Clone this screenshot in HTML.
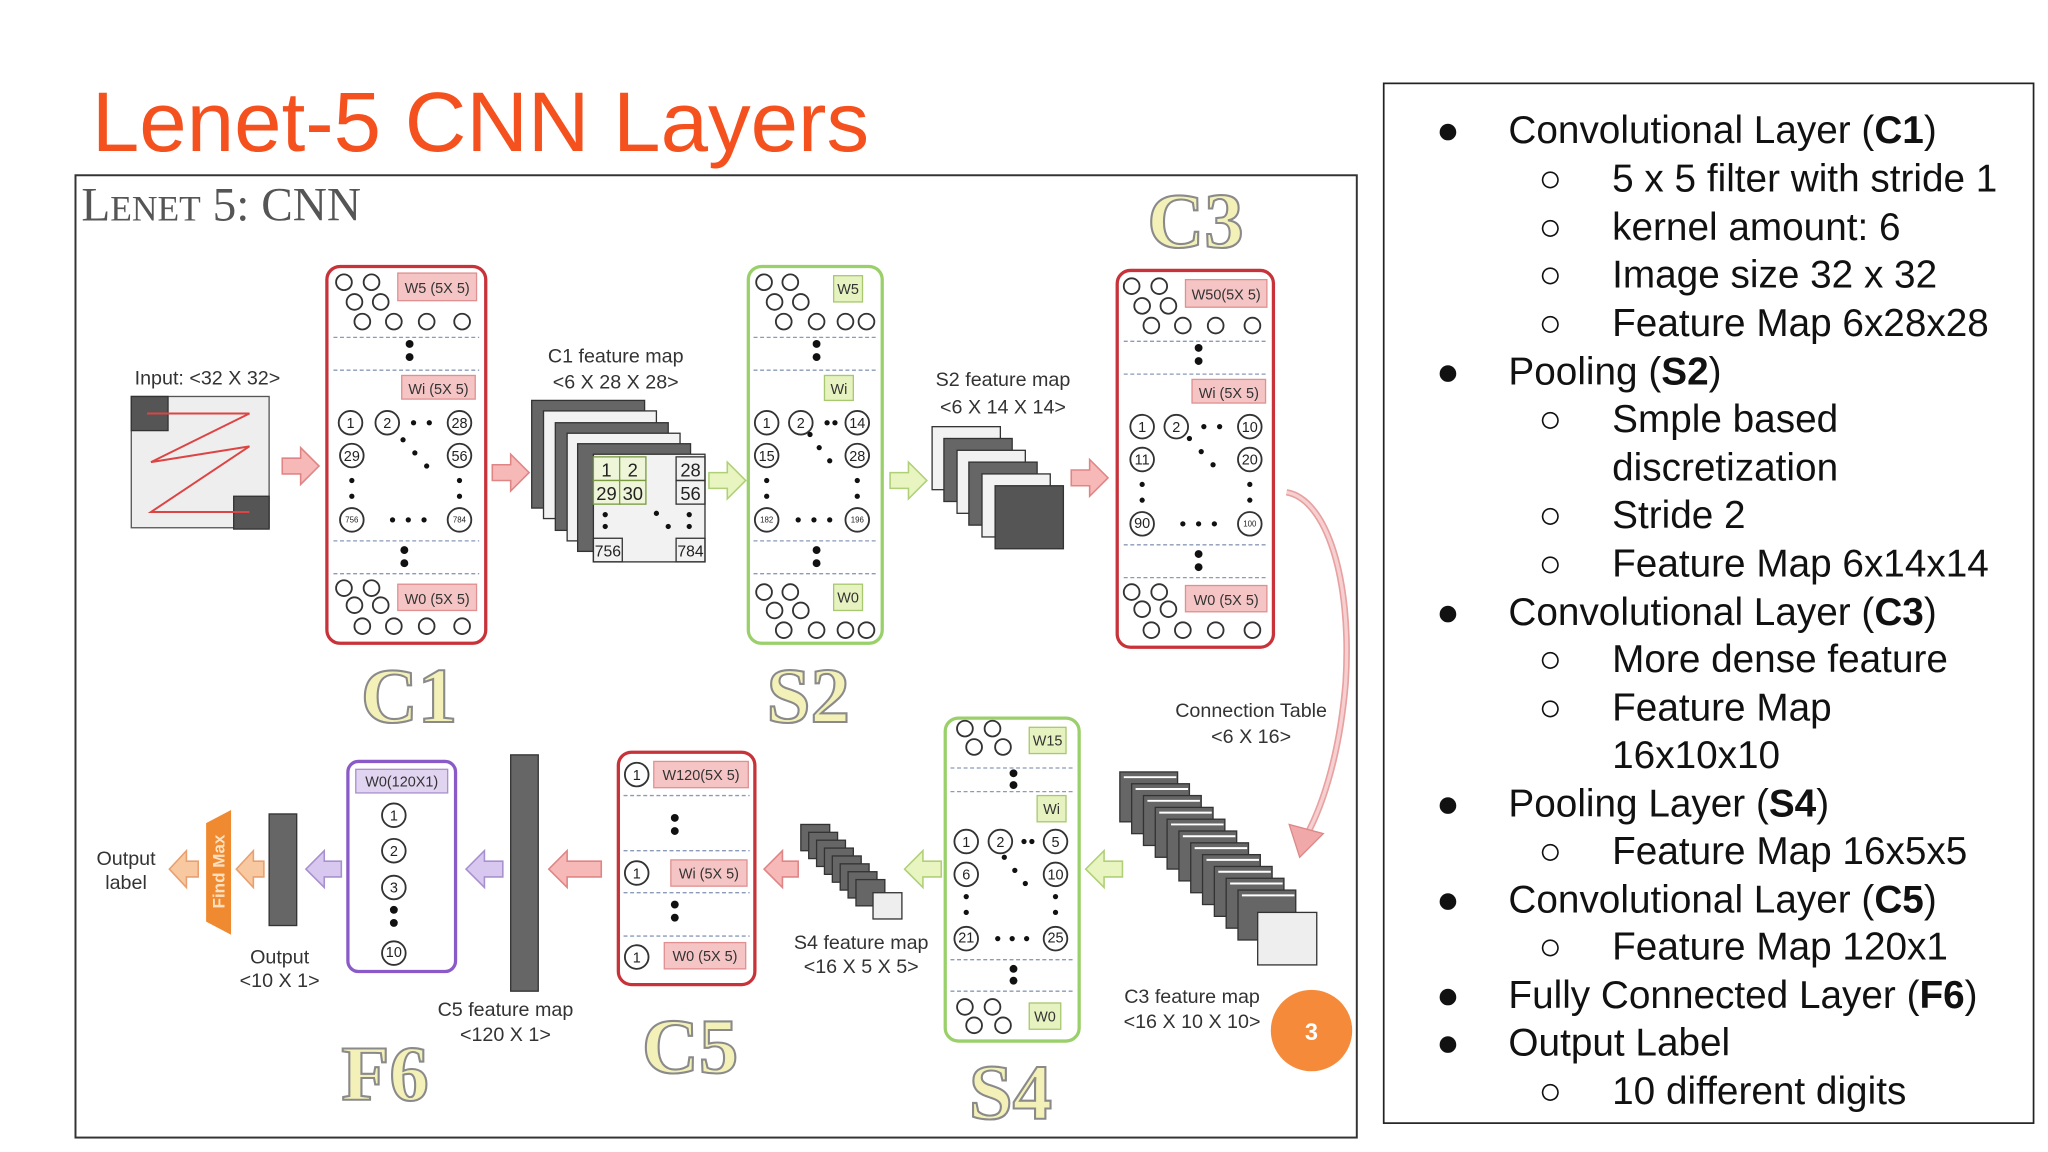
<!DOCTYPE html>
<html><head><meta charset="utf-8"><style>
html,body{margin:0;padding:0;background:#fff;}
svg{display:block;}
text{font-family:"Liberation Sans",sans-serif;}
</style></head><body>
<svg width="2048" height="1152" viewBox="0 0 1560 877.5" preserveAspectRatio="none" xmlns="http://www.w3.org/2000/svg">
<defs>
<style>
.c{fill:#fff;stroke:#333;stroke-width:1.4}
.d{fill:#111}
.dl{stroke:#8a9ab8;stroke-width:1;stroke-dasharray:3 2}
.n{font-size:11px;text-anchor:middle;fill:#222}
.ns{font-size:6px;text-anchor:middle;fill:#222}
.wl{font-size:11px;fill:#333;text-anchor:middle}
.lab{font-size:15px;fill:#333;text-anchor:middle}
.big{font-family:"Liberation Serif",serif;font-weight:bold;font-size:60px;fill:#f3f1b8;stroke:#8a8a8a;stroke-width:1.6}
.bl{font-size:29.5px;fill:#111}
.ser{font-family:"Liberation Serif",serif;}
</style>
</defs>

<!-- Title -->
<text x="70" y="115" font-size="64" fill="#f4511e" textLength="592" lengthAdjust="spacingAndGlyphs">Lenet-5 CNN Layers</text>

<!-- Right box -->
<rect x="1054" y="63.5" width="495" height="792" fill="#fff" stroke="#222" stroke-width="1.3"/>
<g class="bl">
<text x="1094" y="109">●</text><text x="1149" y="109">Convolutional Layer (<tspan font-weight="bold">C1</tspan>)</text>
<text x="1172" y="146">○</text><text x="1228" y="146">5 x 5 filter with stride 1</text>
<text x="1172" y="183">○</text><text x="1228" y="183">kernel amount: 6</text>
<text x="1172" y="219">○</text><text x="1228" y="219">Image size 32 x 32</text>
<text x="1172" y="256">○</text><text x="1228" y="256">Feature Map 6x28x28</text>
<text x="1094" y="293">●</text><text x="1149" y="293">Pooling (<tspan font-weight="bold">S2</tspan>)</text>
<text x="1172" y="329">○</text><text x="1228" y="329">Smple based</text>
<text x="1228" y="366">discretization</text>
<text x="1172" y="402">○</text><text x="1228" y="402">Stride 2</text>
<text x="1172" y="439">○</text><text x="1228" y="439">Feature Map 6x14x14</text>
<text x="1094" y="476">●</text><text x="1149" y="476">Convolutional Layer (<tspan font-weight="bold">C3</tspan>)</text>
<text x="1172" y="512">○</text><text x="1228" y="512">More dense feature</text>
<text x="1172" y="549">○</text><text x="1228" y="549">Feature Map</text>
<text x="1228" y="585">16x10x10</text>
<text x="1094" y="622">●</text><text x="1149" y="622">Pooling Layer (<tspan font-weight="bold">S4</tspan>)</text>
<text x="1172" y="658">○</text><text x="1228" y="658">Feature Map 16x5x5</text>
<text x="1094" y="695">●</text><text x="1149" y="695">Convolutional Layer (<tspan font-weight="bold">C5</tspan>)</text>
<text x="1172" y="731">○</text><text x="1228" y="731">Feature Map 120x1</text>
<text x="1094" y="768">●</text><text x="1149" y="768">Fully Connected Layer (<tspan font-weight="bold">F6</tspan>)</text>
<text x="1094" y="804">●</text><text x="1149" y="804">Output Label</text>
<text x="1172" y="841">○</text><text x="1228" y="841">10 different digits</text>
</g>

<!-- Diagram frame -->
<rect x="57.5" y="133.5" width="976" height="733" fill="#fff" stroke="#333" stroke-width="1.5"/>
<text class="ser" x="62" y="168" font-size="36" fill="#555">L<tspan font-size="27">ENET</tspan> 5: CNN</text>

<!-- Big letters -->
<text class="big" x="275" y="550">C1</text>
<text class="big" x="584" y="550">S2</text>
<text class="big" x="874" y="188">C3</text>
<text class="big" x="260" y="838">F6</text>
<text class="big" x="489" y="817">C5</text>
<text class="big" x="738" y="852">S4</text>

<!-- Input -->
<text class="lab" x="158" y="293">Input: &lt;32 X 32&gt;</text>
<rect x="100" y="302" width="105" height="100" fill="#eee" stroke="#555"/>
<rect x="100" y="302" width="28" height="26" fill="#555" stroke="#333"/>
<rect x="178" y="378" width="27" height="25" fill="#555" stroke="#333"/>
<polyline points="112,315 190,315 115,352 190,340 115,390 190,390" fill="none" stroke="#d44" stroke-width="1.5"/>

<!-- C1 box -->
<g transform="translate(249,203)">
<rect x="0" y="0" width="121" height="287" rx="10" fill="#fff" stroke="#c8333a" stroke-width="2.5"/>
<g class="c"><circle cx="13" cy="12" r="6"/><circle cx="34" cy="12" r="6"/><circle cx="21" cy="27" r="6"/><circle cx="41" cy="27" r="6"/><circle cx="27" cy="42" r="6"/><circle cx="51" cy="42" r="6"/><circle cx="76" cy="42" r="6"/><circle cx="103" cy="42" r="6"/>
<circle cx="13" cy="245" r="6"/><circle cx="34" cy="245" r="6"/><circle cx="21" cy="258" r="6"/><circle cx="41" cy="258" r="6"/><circle cx="27" cy="274" r="6"/><circle cx="51" cy="274" r="6"/><circle cx="76" cy="274" r="6"/><circle cx="103" cy="274" r="6"/>
<circle cx="18" cy="119" r="9"/><circle cx="46" cy="119" r="9"/><circle cx="101" cy="119" r="9"/><circle cx="19" cy="144" r="9"/><circle cx="101" cy="144" r="9"/><circle cx="19" cy="193" r="9"/><circle cx="101" cy="193" r="9"/></g>
<rect x="54" y="5" width="60" height="21" fill="#f5c5c5" stroke="#e09090"/><text class="wl" x="84" y="20">W5 (5X 5)</text>
<rect x="57" y="83" width="56" height="18" fill="#f5c5c5" stroke="#e09090"/><text class="wl" x="85" y="97">Wi (5X 5)</text>
<rect x="54" y="242" width="60" height="20" fill="#f5c5c5" stroke="#e09090"/><text class="wl" x="84" y="257">W0 (5X 5)</text>
<line class="dl" x1="5" y1="54" x2="116" y2="54"/><line class="dl" x1="5" y1="79" x2="116" y2="79"/><line class="dl" x1="5" y1="209" x2="116" y2="209"/><line class="dl" x1="5" y1="234" x2="116" y2="234"/>
<g class="d"><circle cx="63" cy="59" r="3"/><circle cx="63" cy="69" r="3"/><circle cx="59" cy="216" r="3"/><circle cx="59" cy="226" r="3"/>
<circle cx="66" cy="119" r="2"/><circle cx="78" cy="119" r="2"/><circle cx="58" cy="132" r="2"/><circle cx="67" cy="142" r="2"/><circle cx="76" cy="152" r="2"/><circle cx="19" cy="163" r="2"/><circle cx="19" cy="175" r="2"/><circle cx="101" cy="163" r="2"/><circle cx="101" cy="175" r="2"/><circle cx="50" cy="193" r="2"/><circle cx="62" cy="193" r="2"/><circle cx="74" cy="193" r="2"/></g>
<text class="n" x="18" y="123">1</text><text class="n" x="46" y="123">2</text><text class="n" x="101" y="123" font-size="9">28</text><text class="n" x="19" y="148" font-size="9">29</text><text class="n" x="101" y="148" font-size="9">56</text><text class="ns" x="19" y="195">756</text><text class="ns" x="101" y="195">784</text>
</g>

<!-- C3 box -->
<g transform="translate(851,206)">
<rect x="0" y="0" width="119" height="287" rx="10" fill="#fff" stroke="#c8333a" stroke-width="2.5"/>
<g class="c"><circle cx="11" cy="12" r="6"/><circle cx="32" cy="12" r="6"/><circle cx="19" cy="27" r="6"/><circle cx="39" cy="27" r="6"/><circle cx="26" cy="42" r="6"/><circle cx="50" cy="42" r="6"/><circle cx="75" cy="42" r="6"/><circle cx="103" cy="42" r="6"/>
<circle cx="11" cy="245" r="6"/><circle cx="32" cy="245" r="6"/><circle cx="19" cy="258" r="6"/><circle cx="39" cy="258" r="6"/><circle cx="26" cy="274" r="6"/><circle cx="50" cy="274" r="6"/><circle cx="75" cy="274" r="6"/><circle cx="103" cy="274" r="6"/>
<circle cx="19" cy="119" r="9"/><circle cx="45" cy="119" r="9"/><circle cx="101" cy="119" r="9"/><circle cx="19" cy="144" r="9"/><circle cx="101" cy="144" r="9"/><circle cx="19" cy="193" r="9"/><circle cx="101" cy="193" r="9"/></g>
<rect x="52" y="7" width="62" height="21" fill="#f5c5c5" stroke="#e09090"/><text class="wl" x="83" y="22">W50(5X 5)</text>
<rect x="57" y="83" width="56" height="18" fill="#f5c5c5" stroke="#e09090"/><text class="wl" x="85" y="97">Wi (5X 5)</text>
<rect x="52" y="240" width="62" height="20" fill="#f5c5c5" stroke="#e09090"/><text class="wl" x="83" y="255">W0 (5X 5)</text>
<line class="dl" x1="5" y1="54" x2="114" y2="54"/><line class="dl" x1="5" y1="79" x2="114" y2="79"/><line class="dl" x1="5" y1="209" x2="114" y2="209"/><line class="dl" x1="5" y1="234" x2="114" y2="234"/>
<g class="d"><circle cx="62" cy="59" r="3"/><circle cx="62" cy="69" r="3"/><circle cx="62" cy="216" r="3"/><circle cx="62" cy="226" r="3"/>
<circle cx="66" cy="119" r="2"/><circle cx="78" cy="119" r="2"/><circle cx="55" cy="128" r="2"/><circle cx="64" cy="138" r="2"/><circle cx="73" cy="148" r="2"/><circle cx="19" cy="163" r="2"/><circle cx="19" cy="175" r="2"/><circle cx="101" cy="163" r="2"/><circle cx="101" cy="175" r="2"/><circle cx="50" cy="193" r="2"/><circle cx="62" cy="193" r="2"/><circle cx="74" cy="193" r="2"/></g>
<text class="n" x="19" y="123">1</text><text class="n" x="45" y="123">2</text><text class="n" x="101" y="123" font-size="9">10</text><text class="n" x="19" y="148" font-size="9">11</text><text class="n" x="101" y="148" font-size="9">20</text><text class="n" x="19" y="196" font-size="8">90</text><text class="ns" x="101" y="195">100</text>
</g>

<!-- S2 box -->
<g transform="translate(570,203)">
<rect x="0" y="0" width="102" height="287" rx="10" fill="#fff" stroke="#9ad06a" stroke-width="2.5"/>
<g class="c"><circle cx="12" cy="12" r="6"/><circle cx="32" cy="12" r="6"/><circle cx="20" cy="27" r="6"/><circle cx="40" cy="27" r="6"/><circle cx="27" cy="42" r="6"/><circle cx="52" cy="42" r="6"/><circle cx="74" cy="42" r="6"/><circle cx="90" cy="42" r="6"/>
<circle cx="12" cy="248" r="6"/><circle cx="32" cy="248" r="6"/><circle cx="20" cy="262" r="6"/><circle cx="40" cy="262" r="6"/><circle cx="27" cy="277" r="6"/><circle cx="52" cy="277" r="6"/><circle cx="74" cy="277" r="6"/><circle cx="90" cy="277" r="6"/>
<circle cx="14" cy="119" r="9"/><circle cx="40" cy="119" r="9"/><circle cx="83" cy="119" r="9"/><circle cx="14" cy="144" r="9"/><circle cx="83" cy="144" r="9"/><circle cx="14" cy="193" r="9"/><circle cx="83" cy="193" r="9"/></g>
<rect x="65" y="7" width="22" height="20" fill="#e6f2c0" stroke="#a8c870"/><text class="wl" x="76" y="21">W5</text>
<rect x="58" y="83" width="22" height="19" fill="#e6f2c0" stroke="#a8c870"/><text class="wl" x="69" y="97">Wi</text>
<rect x="65" y="242" width="22" height="20" fill="#e6f2c0" stroke="#a8c870"/><text class="wl" x="76" y="256">W0</text>
<line class="dl" x1="4" y1="54" x2="98" y2="54"/><line class="dl" x1="4" y1="79" x2="98" y2="79"/><line class="dl" x1="4" y1="209" x2="98" y2="209"/><line class="dl" x1="4" y1="234" x2="98" y2="234"/>
<g class="d"><circle cx="52" cy="59" r="3"/><circle cx="52" cy="69" r="3"/><circle cx="52" cy="216" r="3"/><circle cx="52" cy="226" r="3"/>
<circle cx="60" cy="119" r="2"/><circle cx="66" cy="119" r="2"/><circle cx="47" cy="128" r="2"/><circle cx="54" cy="138" r="2"/><circle cx="62" cy="148" r="2"/><circle cx="14" cy="163" r="2"/><circle cx="14" cy="175" r="2"/><circle cx="83" cy="163" r="2"/><circle cx="83" cy="175" r="2"/><circle cx="38" cy="193" r="2"/><circle cx="50" cy="193" r="2"/><circle cx="62" cy="193" r="2"/></g>
<text class="n" x="14" y="123">1</text><text class="n" x="40" y="123">2</text><text class="n" x="83" y="123" font-size="9">14</text><text class="n" x="14" y="148" font-size="9">15</text><text class="n" x="83" y="148" font-size="9">28</text><text class="ns" x="14" y="195">182</text><text class="ns" x="83" y="195">196</text>
</g>

<!-- C1 feature map -->
<text class="lab" x="469" y="276">C1 feature map</text>
<text class="lab" x="469" y="296">&lt;6 X 28 X 28&gt;</text>
<g stroke="#333" stroke-width="1">
<rect x="405" y="305" width="86" height="82" fill="#666"/>
<rect x="414" y="313" width="86" height="82" fill="#f2f2f2"/>
<rect x="423" y="322" width="86" height="82" fill="#666"/>
<rect x="432" y="330" width="86" height="82" fill="#f2f2f2"/>
<rect x="440" y="338" width="86" height="82" fill="#666"/>
<rect x="452" y="346" width="85" height="82" fill="#f2f2f2"/>
</g>
<g stroke="#333" fill="none" stroke-width="1"><rect x="452" y="348" width="20" height="18" fill="#eef5d8" stroke="#7a9a40"/><rect x="472" y="348" width="20" height="18" fill="#eef5d8" stroke="#7a9a40"/><rect x="452" y="366" width="20" height="18" fill="#eef5d8" stroke="#7a9a40"/><rect x="472" y="366" width="20" height="18" fill="#eef5d8" stroke="#7a9a40"/>
<rect x="515" y="348" width="22" height="18"/><rect x="515" y="366" width="22" height="18"/><rect x="452" y="410" width="22" height="18"/><rect x="515" y="410" width="22" height="18"/></g>
<g font-size="14" fill="#222" text-anchor="middle"><text x="462" y="363">1</text><text x="482" y="363">2</text><text x="462" y="381">29</text><text x="482" y="381">30</text><text x="526" y="363">28</text><text x="526" y="381">56</text><text x="463" y="424" font-size="12">756</text><text x="526" y="424" font-size="12">784</text></g>
<g class="d"><circle cx="461" cy="392" r="2"/><circle cx="461" cy="401" r="2"/><circle cx="525" cy="392" r="2"/><circle cx="525" cy="401" r="2"/><circle cx="500" cy="391" r="2"/><circle cx="509" cy="401" r="2"/></g>

<!-- S2 feature map -->
<text class="lab" x="764" y="294">S2 feature map</text>
<text class="lab" x="764" y="315">&lt;6 X 14 X 14&gt;</text>
<g stroke="#333" stroke-width="1">
<rect x="710" y="325" width="52" height="48" fill="#f2f2f2"/>
<rect x="719" y="334" width="52" height="48" fill="#666"/>
<rect x="729" y="343" width="52" height="48" fill="#f2f2f2"/>
<rect x="738" y="352" width="52" height="48" fill="#666"/>
<rect x="748" y="361" width="52" height="48" fill="#f2f2f2"/>
<rect x="758" y="370" width="52" height="48" fill="#555"/>
</g>

<!-- Block arrows -->
<g stroke-width="1.2">
<path d="M215,349 h14 v-8 l14,14 l-14,14 v-8 h-14z" fill="#f7b8b8" stroke="#e08585"/>
<path d="M375,354 h14 v-8 l14,14 l-14,14 v-8 h-14z" fill="#f7b8b8" stroke="#e08585"/>
<path d="M540,360 h14 v-8 l14,14 l-14,14 v-8 h-14z" fill="#e8f5c0" stroke="#b0d078"/>
<path d="M678,360 h14 v-8 l14,14 l-14,14 v-8 h-14z" fill="#e8f5c0" stroke="#b0d078"/>
<path d="M816,358 h14 v-8 l14,14 l-14,14 v-8 h-14z" fill="#f7b8b8" stroke="#e08585"/>
<path d="M855,656 h-14 v-8 l-14,14 l14,14 v-8 h14z" fill="#e8f5c0" stroke="#b0d078"/>
<path d="M717,656 h-14 v-8 l-14,14 l14,14 v-8 h14z" fill="#e8f5c0" stroke="#b0d078"/>
<path d="M608,656 h-12 v-8 l-14,14 l14,14 v-8 h12z" fill="#f7b8b8" stroke="#e08585"/>
<path d="M458,656 h-26 v-8 l-14,14 l14,14 v-8 h26z" fill="#f7b8b8" stroke="#e08585"/>
<path d="M383,656 h-14 v-8 l-14,14 l14,14 v-8 h14z" fill="#d8c8f0" stroke="#a890d0"/>
<path d="M260,656 h-13 v-8 l-14,14 l14,14 v-8 h13z" fill="#d8c8f0" stroke="#a890d0"/>
<path d="M201,656 h-8 v-8 l-13,14 l13,14 v-8 h8z" fill="#f8c8a0" stroke="#e8a070"/>
<path d="M151,656 h-9 v-8 l-13,14 l13,14 v-8 h9z" fill="#f8c8a0" stroke="#e8a070"/>
</g>

<!-- curved arrow -->
<path d="M980,375 C1010,380 1030,440 1025,520 C1020,580 1005,620 993,640" fill="none" stroke="#e8a0a0" stroke-width="5"/>
<path d="M980,375 C1010,380 1030,440 1025,520 C1020,580 1005,620 993,640" fill="none" stroke="#f6d0d0" stroke-width="2.5"/>
<path d="M982,628 l8,25 l18,-18z" fill="#f0a8a8" stroke="#d88"/>

<!-- Connection table -->
<text class="lab" x="953" y="546">Connection Table</text>
<text class="lab" x="953" y="566">&lt;6 X 16&gt;</text>
<g stroke="#333" stroke-width="1">
<rect x="853" y="588" width="44" height="38" fill="#666"/>
<rect x="862" y="597" width="44" height="38" fill="#666"/>
<rect x="871" y="606" width="44" height="38" fill="#666"/>
<rect x="880" y="615" width="44" height="38" fill="#666"/>
<rect x="889" y="624" width="44" height="38" fill="#666"/>
<rect x="898" y="633" width="44" height="38" fill="#666"/>
<rect x="907" y="642" width="44" height="38" fill="#666"/>
<rect x="916" y="651" width="44" height="38" fill="#666"/>
<rect x="925" y="660" width="44" height="38" fill="#666"/>
<rect x="934" y="669" width="44" height="38" fill="#666"/>
<rect x="943" y="678" width="44" height="38" fill="#666"/>
<rect x="958" y="695" width="45" height="40" fill="#eee"/>
</g>
<g stroke="#fff" stroke-width="1.5"><line x1="856" y1="592" x2="896" y2="592"/><line x1="865" y1="601" x2="905" y2="601"/><line x1="874" y1="610" x2="914" y2="610"/><line x1="883" y1="619" x2="923" y2="619"/><line x1="892" y1="628" x2="932" y2="628"/><line x1="901" y1="637" x2="941" y2="637"/><line x1="910" y1="646" x2="950" y2="646"/><line x1="919" y1="655" x2="959" y2="655"/><line x1="928" y1="664" x2="968" y2="664"/><line x1="937" y1="673" x2="977" y2="673"/><line x1="946" y1="682" x2="986" y2="682"/></g>

<text class="lab" x="908" y="764">C3 feature map</text>
<text class="lab" x="908" y="783">&lt;16 X 10 X 10&gt;</text>
<circle cx="999" cy="785" r="31" fill="#f58a3a"/>
<text x="999" y="792" font-size="18" font-weight="bold" fill="#fff" text-anchor="middle">3</text>

<!-- S4 box -->
<g transform="translate(720,547)">
<rect x="0" y="0" width="102" height="246" rx="10" fill="#fff" stroke="#9ad06a" stroke-width="2.5"/>
<g class="c"><circle cx="15" cy="8" r="6"/><circle cx="36" cy="8" r="6"/><circle cx="22" cy="22" r="6"/><circle cx="44" cy="22" r="6"/>
<circle cx="15" cy="220" r="6"/><circle cx="36" cy="220" r="6"/><circle cx="22" cy="234" r="6"/><circle cx="44" cy="234" r="6"/>
<circle cx="16" cy="94" r="9"/><circle cx="42" cy="94" r="9"/><circle cx="84" cy="94" r="9"/><circle cx="16" cy="119" r="9"/><circle cx="84" cy="119" r="9"/><circle cx="16" cy="168" r="9"/><circle cx="84" cy="168" r="9"/></g>
<rect x="64" y="7" width="28" height="20" fill="#e6f2c0" stroke="#a8c870"/><text class="wl" x="78" y="21">W15</text>
<rect x="70" y="59" width="22" height="20" fill="#e6f2c0" stroke="#a8c870"/><text class="wl" x="81" y="73">Wi</text>
<rect x="64" y="217" width="24" height="20" fill="#e6f2c0" stroke="#a8c870"/><text class="wl" x="76" y="231">W0</text>
<line class="dl" x1="4" y1="38" x2="98" y2="38"/><line class="dl" x1="4" y1="56" x2="98" y2="56"/><line class="dl" x1="4" y1="184" x2="98" y2="184"/><line class="dl" x1="4" y1="208" x2="98" y2="208"/>
<g class="d"><circle cx="52" cy="42" r="3"/><circle cx="52" cy="51" r="3"/><circle cx="52" cy="191" r="3"/><circle cx="52" cy="200" r="3"/>
<circle cx="60" cy="94" r="2"/><circle cx="66" cy="94" r="2"/><circle cx="45" cy="106" r="2"/><circle cx="53" cy="116" r="2"/><circle cx="61" cy="126" r="2"/><circle cx="16" cy="136" r="2"/><circle cx="16" cy="148" r="2"/><circle cx="84" cy="136" r="2"/><circle cx="84" cy="148" r="2"/><circle cx="40" cy="168" r="2"/><circle cx="51" cy="168" r="2"/><circle cx="62" cy="168" r="2"/></g>
<text class="n" x="16" y="98">1</text><text class="n" x="42" y="98">2</text><text class="n" x="84" y="98">5</text><text class="n" x="16" y="123">6</text><text class="n" x="84" y="123" font-size="9">10</text><text class="n" x="16" y="171" font-size="9">21</text><text class="n" x="84" y="171" font-size="9">25</text>
</g>

<!-- S4 feature map -->
<g stroke="#333" stroke-width="1">
<rect x="610" y="628" width="22" height="20" fill="#666"/>
<rect x="616" y="634" width="22" height="20" fill="#666"/>
<rect x="622" y="640" width="22" height="20" fill="#666"/>
<rect x="628" y="646" width="22" height="20" fill="#666"/>
<rect x="634" y="652" width="22" height="20" fill="#666"/>
<rect x="640" y="658" width="22" height="20" fill="#666"/>
<rect x="646" y="664" width="22" height="20" fill="#666"/>
<rect x="652" y="670" width="22" height="20" fill="#666"/>
<rect x="665" y="680" width="22" height="20" fill="#eee"/>
</g>
<text class="lab" x="656" y="723">S4 feature map</text>
<text class="lab" x="656" y="741">&lt;16 X 5 X 5&gt;</text>

<!-- C5 box -->
<g transform="translate(471,573)">
<rect x="0" y="0" width="104" height="177" rx="10" fill="#fff" stroke="#c8333a" stroke-width="2.5"/>
<g class="c"><circle cx="14" cy="17" r="9"/><circle cx="14" cy="92" r="9"/><circle cx="14" cy="156" r="9"/></g>
<text class="n" x="14" y="21">1</text><text class="n" x="14" y="96">1</text><text class="n" x="14" y="160">1</text>
<rect x="27" y="7" width="72" height="20" fill="#f5c5c5" stroke="#e09090"/><text class="wl" x="63" y="21">W120(5X 5)</text>
<rect x="40" y="82" width="58" height="20" fill="#f5c5c5" stroke="#e09090"/><text class="wl" x="69" y="96">Wi (5X 5)</text>
<rect x="35" y="145" width="62" height="20" fill="#f5c5c5" stroke="#e09090"/><text class="wl" x="66" y="159">W0 (5X 5)</text>
<line class="dl" x1="4" y1="33" x2="100" y2="33"/><line class="dl" x1="4" y1="75" x2="100" y2="75"/><line class="dl" x1="4" y1="107" x2="100" y2="107"/><line class="dl" x1="4" y1="140" x2="100" y2="140"/>
<g class="d"><circle cx="43" cy="50" r="3"/><circle cx="43" cy="60" r="3"/><circle cx="43" cy="116" r="3"/><circle cx="43" cy="126" r="3"/></g>
</g>

<!-- C5 feature map bar -->
<rect x="389" y="575" width="21" height="180" fill="#666" stroke="#333"/>
<text class="lab" x="385" y="774">C5 feature map</text>
<text class="lab" x="385" y="793">&lt;120 X 1&gt;</text>

<!-- F6 box -->
<g transform="translate(265,580)">
<rect x="0" y="0" width="82" height="160" rx="8" fill="#fff" stroke="#8a5ac8" stroke-width="2.5"/>
<rect x="6" y="6" width="70" height="18" fill="#e0d4f0" stroke="#a890d0"/><text class="wl" x="41" y="19">W0(120X1)</text>
<g class="c"><circle cx="35" cy="41" r="9"/><circle cx="35" cy="68" r="9"/><circle cx="35" cy="96" r="9"/><circle cx="35" cy="146" r="9"/></g>
<text class="n" x="35" y="45">1</text><text class="n" x="35" y="72">2</text><text class="n" x="35" y="100">3</text><text class="n" x="35" y="149" font-size="9">10</text>
<g class="d"><circle cx="35" cy="113" r="3"/><circle cx="35" cy="123" r="3"/></g>
</g>

<!-- Output -->
<rect x="205" y="620" width="21" height="85" fill="#666" stroke="#333"/>
<text class="lab" x="213" y="734">Output</text>
<text class="lab" x="213" y="752">&lt;10 X 1&gt;</text>
<path d="M157,627 L176,617 L176,712 L157,702z" fill="#f08a30"/>
<text x="0" y="0" transform="translate(171,692) rotate(-90)" font-size="13" font-weight="bold" fill="#fde0c0">Find Max</text>
<text class="lab" x="96" y="659">Output</text>
<text class="lab" x="96" y="677">label</text>
</svg>
</body></html>
